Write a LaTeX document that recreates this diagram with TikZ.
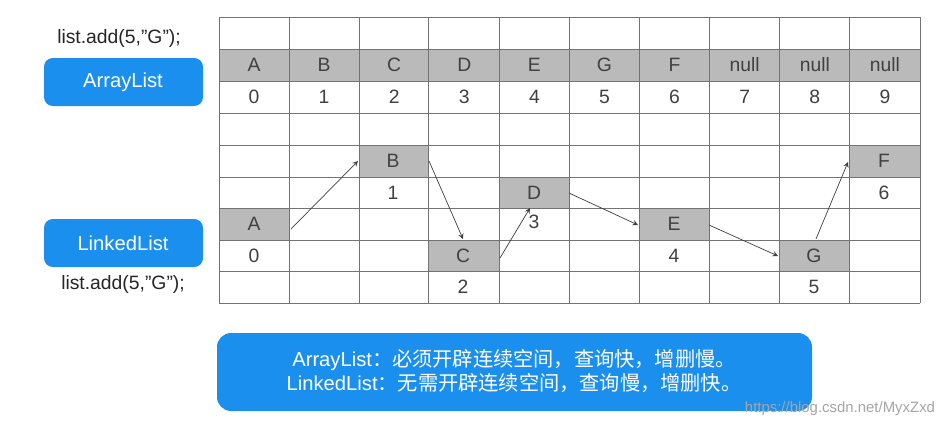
\documentclass[tikz,border=0pt]{standalone}
\usepackage{fontspec}
\setmainfont{Liberation Sans}
\newfontfamily\cjk{Noto Sans CJK SC}
\begin{document}
\begin{tikzpicture}[x=0.02cm,y=-0.02cm,
  cellgray/.style={fill=black!27},
  lab/.style={font=\fontsize{11}{13}\selectfont,text=black!75},
  bluebox/.style={fill=blue!50!cyan!80!black,fill=[HTML]{1A8FEE},rounded corners=5pt},
  arr/.style={->,>=stealth,black!75,thin}]
\definecolor{bl}{HTML}{1A8FEE}
\useasboundingbox (0,0) rectangle (948,427);
\fill[white] (0,0) rectangle (948,427);
% grid columns/rows
\def\xs{{219,289,359,428,499,569,639,709,779,849,920}}
\def\ys{{17,49,81,113,145,177,208,240,271,303}}
% gray cells
\fill[black!27] (219,49) rectangle (920,81);
\fill[black!27] (359,145) rectangle (428,177);
\fill[black!27] (849,145) rectangle (920,177);
\fill[black!27] (499,177) rectangle (569,208);
\fill[black!27] (219,208) rectangle (289,240);
\fill[black!27] (639,208) rectangle (709,240);
\fill[black!27] (428,240) rectangle (499,271);
\fill[black!27] (779,240) rectangle (849,271);
\foreach \x in {219,289,359,428,499,569,639,709,779,849,920} \draw[black!55,thin] (\x,17) -- (\x,303);
\foreach \y in {17,49,81,113,145,177,208,240,271,303} \draw[black!55,thin] (219,\y) -- (920,\y);
% row 1 letters
\foreach \t [count=\i from 0] in {A,B,C,D,E,G,F,null,null,null}
  \node[lab] (r1c\i) at ({254+70.1*\i},65) {\t};
\foreach \i in {0,...,9}
  \node[lab] (r2c\i) at ({254+70.1*\i},97) {\i};
% linked list
\node[lab] (B) at (393,161) {B};
\node[lab] (F) at (884,161) {F};
\node[lab] (b1) at (393,193) {1};
\node[lab] (D) at (534,193) {D};
\node[lab] (f6) at (884,193) {6};
\node[lab] (A) at (254,224) {A};
\node[lab] (d3) at (534,222) {3};
\node[lab] (E) at (674,224) {E};
\node[lab] (a0) at (254,256) {0};
\node[lab] (C) at (463,256) {C};
\node[lab] (e4) at (674,256) {4};
\node[lab] (G) at (814,256) {G};
\node[lab] (c2) at (463,287) {2};
\node[lab] (g5) at (814,287) {5};
\coordinate (a1) at (291,229); \coordinate (a2) at (358,161);
\draw[arr] (a1) -- (a2);
\coordinate (b1s) at (429,161); \coordinate (b1e) at (463,239);
\draw[arr] (b1s) -- (b1e);
\coordinate (c1s) at (500,258); \coordinate (c1e) at (530,208);
\draw[arr] (c1s) -- (c1e);
\coordinate (d1s) at (569,193); \coordinate (d1e) at (638,225);
\draw[arr] (d1s) -- (d1e);
\coordinate (e1s) at (709,225); \coordinate (e1e) at (778,256);
\draw[arr] (e1s) -- (e1e);
\coordinate (g1s) at (816,239); \coordinate (g1e) at (848,162);
\draw[arr] (g1s) -- (g1e);
% left side
\node[lab,text=black!85] (code1) at (119,38) {list.add(5,”G”);};
\fill[bl,rounded corners=5pt] (44,58) rectangle (203,106);
\node[font=\fontsize{11.5}{13}\selectfont,text=white] (AL) at (123,82) {ArrayList};
\fill[bl,rounded corners=5pt] (44,219) rectangle (203,267);
\node[font=\fontsize{11.5}{13}\selectfont,text=white] (LL) at (123,243) {LinkedList};
\node[lab,text=black!85] (code2) at (123,284) {list.add(5,”G”);};
% bottom box
\fill[bl,rounded corners=8pt] (217,333) rectangle (812,411);
\node[font=\fontsize{11.5}{14}\selectfont,text=white,align=center] (summary) at (514,371)
  {ArrayList{\cjk：必须开辟连续空间，查询快，增删慢。}\\LinkedList{\cjk：无需开辟连续空间，查询慢，增删快。}};
\node[font=\fontsize{8.5}{10}\selectfont,text=black!35] (wm) at (840,409) {https://blog.csdn.net/MyxZxd};
\end{tikzpicture}
\end{document}
